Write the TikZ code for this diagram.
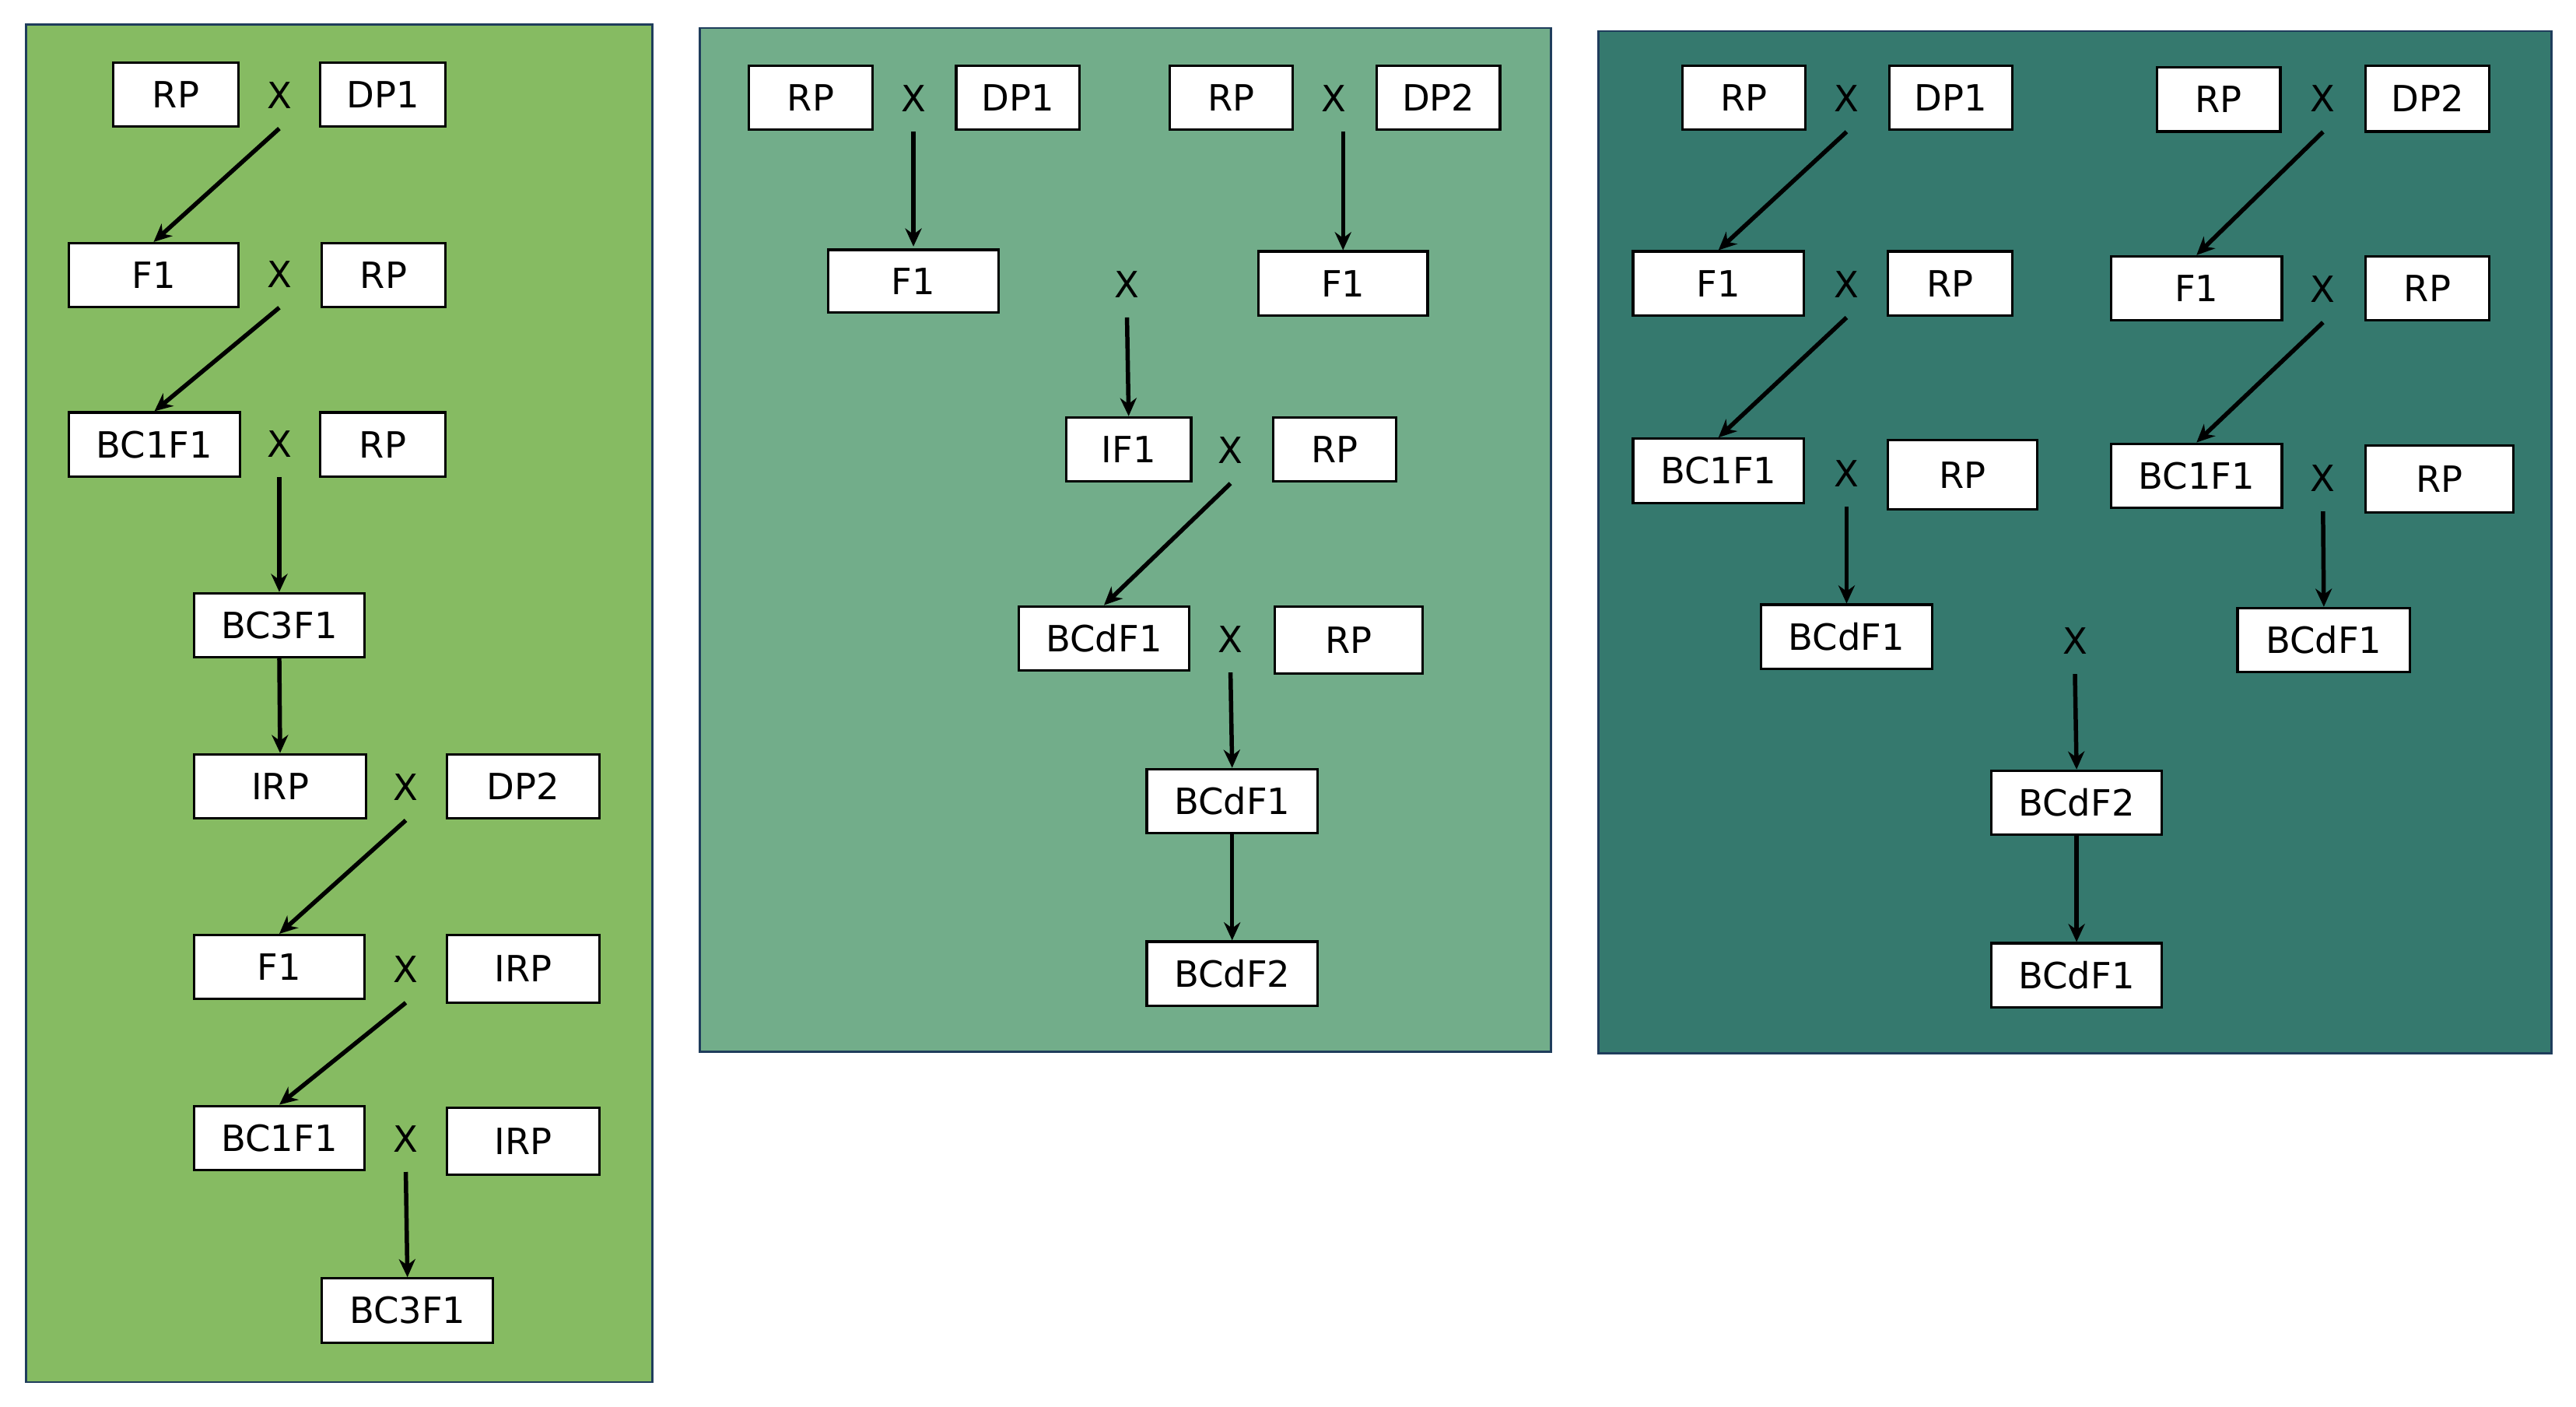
\documentclass[tikz,border=0pt]{standalone}
\usepackage{fontspec}
\setmainfont{DejaVu Sans}
\usetikzlibrary{arrows.meta}
\definecolor{pA}{HTML}{86BB62}
\definecolor{pB}{HTML}{72AD8A}
\definecolor{pC}{HTML}{35796E}
\definecolor{edge}{HTML}{1F3D5C}
\tikzset{
  box/.style={draw=black,line width=1.5pt,fill=white,inner sep=0pt,font=\fontsize{22}{24}\selectfont},
  cross/.style={inner sep=0pt,minimum height=40pt,font=\fontsize{22}{24}\selectfont},
  arr/.style={line width=2.6pt,-{Stealth[length=11pt,width=10pt]}},
  panel/.style={draw=edge,line width=1.3pt}
}
\newcommand{\bx}[6]{\node[box,minimum width={(#3-#2)*1pt},minimum height={(#5-#4)*1pt}] (#1) at ({(#2+#3)/2},{-(#4+#5)/2}) {#6};}
\newcommand{\xx}[3]{\node[cross] (#1) at (#2,-#3) {X};}
\begin{document}
\begin{tikzpicture}[x=1pt,y=1pt]
\useasboundingbox (0,0) rectangle (1568,-856);
\fill[white] (0,0) rectangle (1568,-856);
\draw[panel,fill=pA] (16,-15) rectangle (397,-841);
\draw[panel,fill=pB] (426,-17) rectangle (944,-640);
\draw[panel,fill=pC] (973,-19) rectangle (1553,-641);
% panel 1
\bx{a1}{69}{145}{38}{77}{RP}\xx{ax1}{170}{58}\bx{a2}{195}{271}{38}{77}{DP1}
\bx{a3}{42}{145}{148}{187}{F1}\xx{ax2}{170}{167}\bx{a4}{196}{271}{148}{187}{RP}
\bx{a5}{42}{146}{251}{290}{BC1F1}\xx{ax3}{170}{270}\bx{a6}{195}{271}{251}{290}{RP}
\bx{a7}{118}{222}{361}{400}{BC3F1}
\bx{a8}{118}{223}{459}{498}{IRP}\xx{ax4}{247}{479}\bx{a9}{272}{365}{459}{498}{DP2}
\bx{a10}{118}{222}{569}{608}{F1}\xx{ax5}{247}{590}\bx{a11}{272}{365}{569}{610}{IRP}
\bx{a12}{118}{222}{673}{712}{BC1F1}\xx{ax6}{247}{693}\bx{a13}{272}{365}{674}{715}{IRP}
\bx{a14}{196}{300}{778}{817}{BC3F1}
\draw[arr] (ax1.south) -- (a3.north);
\draw[arr] (ax2.south) -- (a5.north);
\draw[arr] (ax3.south) -- (a7.north);
\draw[arr] (a7.south) -- (a8.north);
\draw[arr] (ax4.south) -- (a10.north);
\draw[arr] (ax5.south) -- (a12.north);
\draw[arr] (ax6.south) -- (a14.north);
% panel 2
\bx{b1}{456}{531}{40}{79}{RP}\xx{bx1}{556}{60}\bx{b2}{582}{657}{40}{79}{DP1}
\bx{b3}{712}{787}{40}{79}{RP}\xx{bx2}{812}{60}\bx{b4}{838}{913}{40}{79}{DP2}
\bx{b5}{504}{608}{152}{190}{F1}\bx{b6}{766}{869}{153}{192}{F1}\xx{bx3}{686}{173}
\bx{b7}{649}{725}{254}{293}{IF1}\xx{bx4}{749}{274}\bx{b8}{775}{850}{254}{293}{RP}
\bx{b9}{620}{724}{369}{408}{BCdF1}\xx{bx5}{749}{389}\bx{b10}{776}{866}{369}{410}{RP}
\bx{b11}{698}{802}{468}{507}{BCdF1}
\bx{b12}{698}{802}{573}{612}{BCdF2}
\draw[arr] (bx1.south) -- (556,-150);
\draw[arr] (bx2.south -| b6.north) -- (b6.north);
\draw[arr] (bx3.south) -- (b7.north);
\draw[arr] (bx4.south) -- (b9.north);
\draw[arr] (bx5.south) -- (b11.north);
\draw[arr] (b11.south) -- (b12.north);
% panel 3
\bx{c1}{1024}{1099}{40}{79}{RP}\xx{cx1}{1124}{60}\bx{c2}{1150}{1225}{40}{79}{DP1}
\bx{c3}{994}{1098}{153}{192}{F1}\xx{cx2}{1124}{173}\bx{c4}{1149}{1225}{153}{192}{RP}
\bx{c5}{994}{1098}{267}{306}{BC1F1}\xx{cx3}{1124}{288}\bx{c6}{1149}{1240}{268}{310}{RP}
\bx{c7}{1072}{1176}{368}{407}{BCdF1}
\bx{d1}{1313}{1388}{41}{80}{RP}\xx{dx1}{1414}{60}\bx{d2}{1440}{1515}{40}{80}{DP2}
\bx{d3}{1285}{1389}{156}{195}{F1}\xx{dx2}{1414}{176}\bx{d4}{1440}{1515}{156}{195}{RP}
\bx{d5}{1285}{1389}{270}{309}{BC1F1}\xx{dx3}{1414}{291}\bx{d6}{1440}{1530}{271}{312}{RP}
\bx{d7}{1362}{1467}{370}{409}{BCdF1}
\xx{ex1}{1263}{390}
\bx{e1}{1212}{1316}{469}{508}{BCdF2}
\bx{e2}{1212}{1316}{574}{613}{BCdF1}
\draw[arr] (cx1.south) -- (c3.north);
\draw[arr] (cx2.south) -- (c5.north);
\draw[arr] (cx3.south) -- (c7.north);
\draw[arr] (dx1.south) -- (d3.north);
\draw[arr] (dx2.south) -- (d5.north);
\draw[arr] (dx3.south) -- (d7.north);
\draw[arr] (ex1.south) -- (e1.north);
\draw[arr] (e1.south) -- (e2.north);
\end{tikzpicture}
\end{document}
